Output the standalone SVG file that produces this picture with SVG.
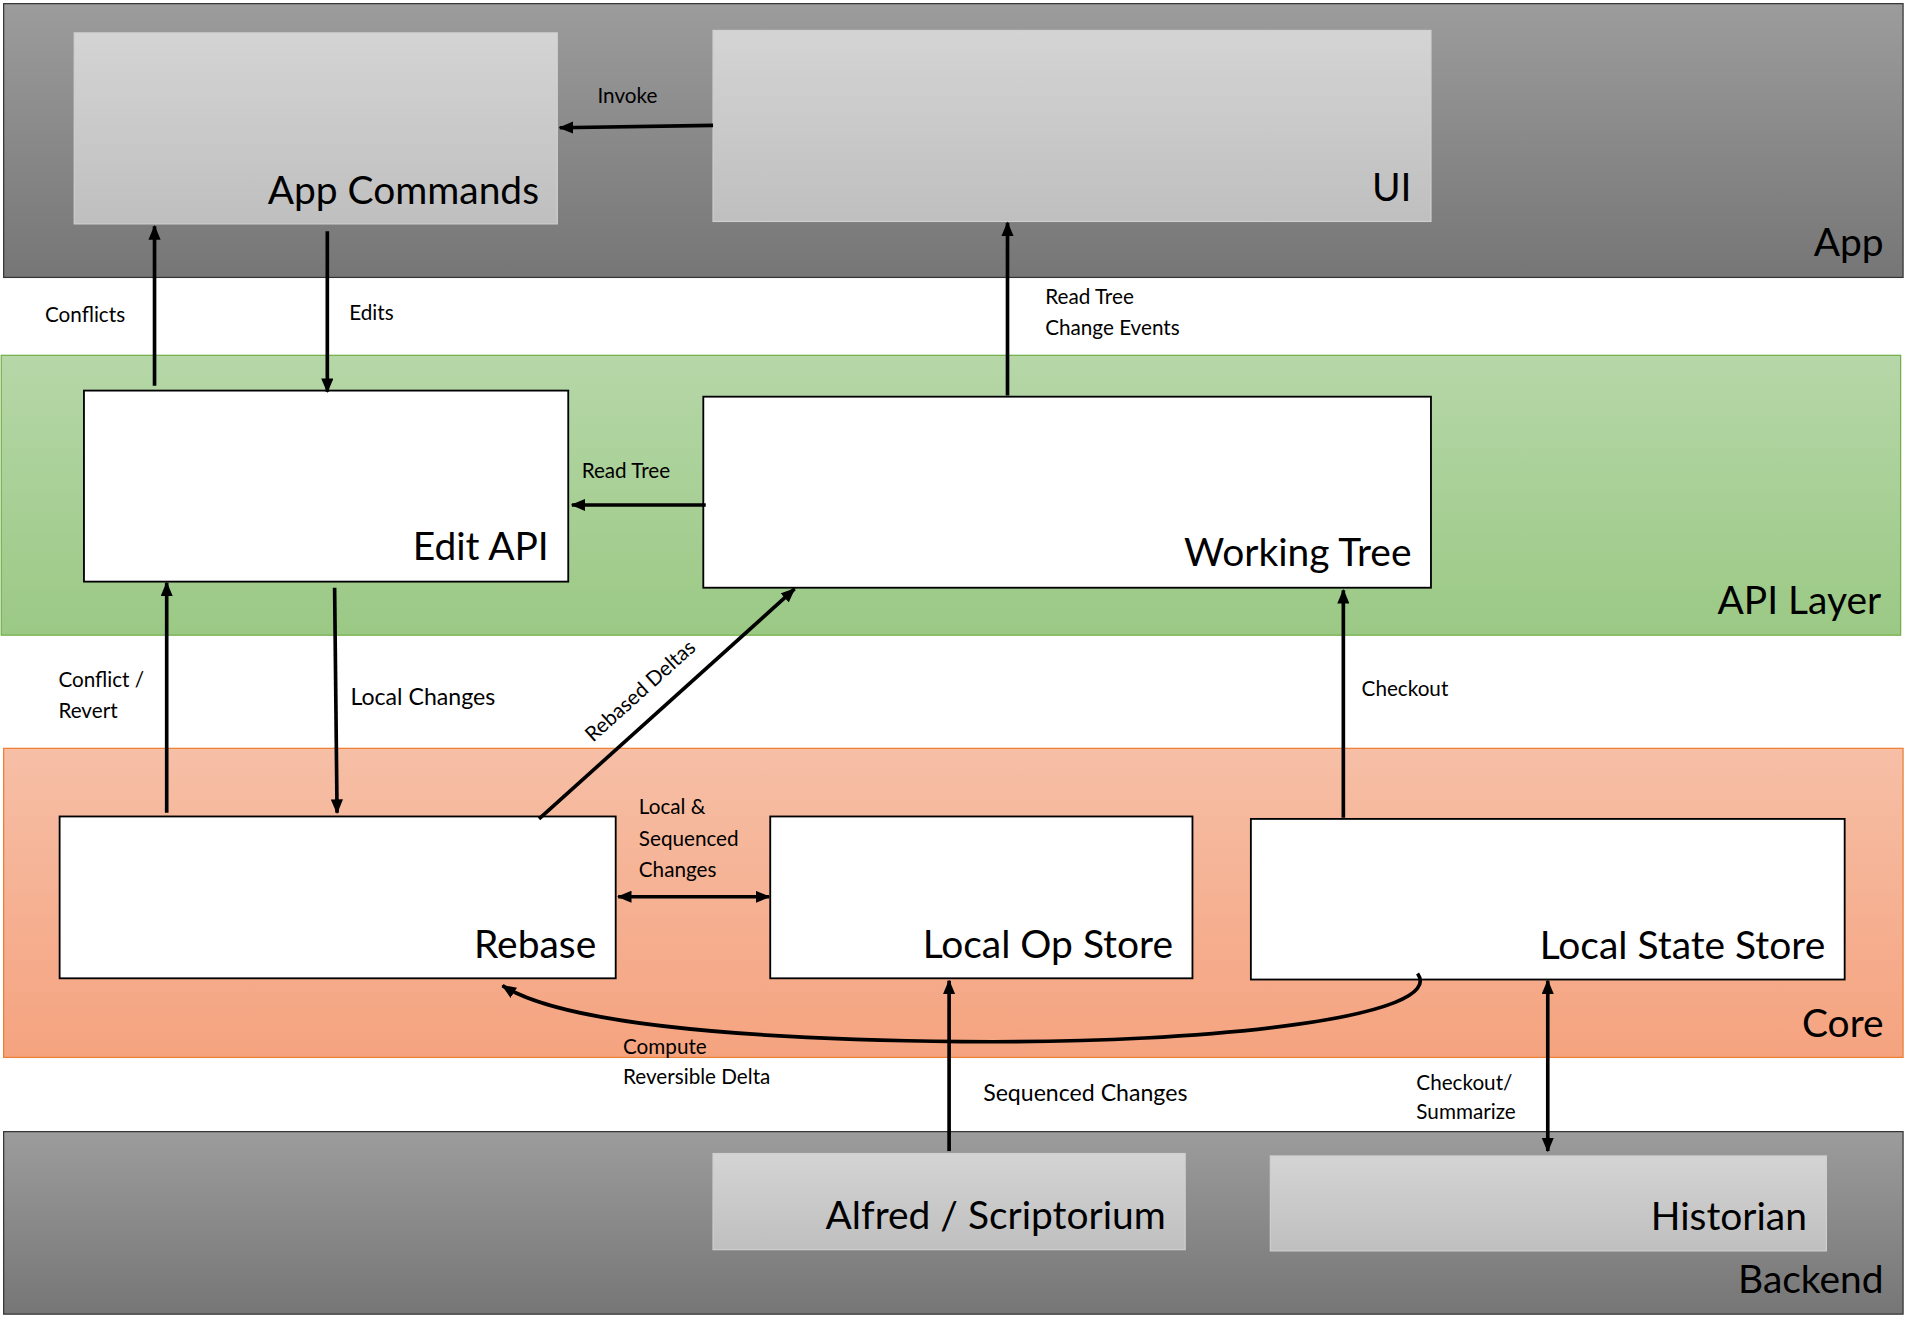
<svg xmlns="http://www.w3.org/2000/svg" width="1908" height="1320" viewBox="0 0 1908 1320">
<defs>
<linearGradient id="gGray" x1="0" y1="0" x2="0" y2="1"><stop offset="0" stop-color="#9c9c9c"/><stop offset="1" stop-color="#767676"/></linearGradient>
<linearGradient id="gLight" x1="0" y1="0" x2="0" y2="1"><stop offset="0" stop-color="#d4d4d4"/><stop offset="1" stop-color="#bfbfbf"/></linearGradient>
<linearGradient id="gGreen" x1="0" y1="0" x2="0" y2="1"><stop offset="0" stop-color="#b6d7a8"/><stop offset="1" stop-color="#9bc985"/></linearGradient>
<linearGradient id="gCore" x1="0" y1="0" x2="0" y2="1"><stop offset="0" stop-color="#f6bfa6"/><stop offset="1" stop-color="#f5a37f"/></linearGradient>
<marker id="ah" viewBox="0 0 12 10" refX="11" refY="5" markerWidth="12" markerHeight="10" markerUnits="userSpaceOnUse" orient="auto-start-reverse"><path d="M0,0 L12,5 L0,10 z" fill="#000"/></marker>
</defs>
<style>
text{font-family:Lato,"Open Sans","Liberation Sans",sans-serif;fill:#000}
.big{font-size:32px;text-anchor:end}
.lbl{font-size:17px}
.node{fill:#fff;stroke:#000;stroke-width:1.5}
.grey{fill:url(#gLight);stroke:#cfcfcf;stroke-width:1}
.c{fill:none;stroke:#000;stroke-width:3;marker-end:url(#ah)}
.d{marker-start:url(#ah)}
</style>
<g transform="scale(1.2168)">
<g id="layer-app"><rect x="3" y="3" width="1561" height="225" fill="url(#gGray)" stroke="#333" stroke-width="1"/><text class="big" x="1548" y="210">App</text></g>
<g id="layer-api"><rect x="1" y="292" width="1561" height="230" fill="url(#gGreen)" stroke="#70ad47" stroke-width="1"/><text class="big" x="1546" y="505">API Layer</text></g>
<g id="layer-core"><rect x="3" y="615" width="1561" height="254" fill="url(#gCore)" stroke="#ed7d31" stroke-width="1"/><text class="big" x="1548" y="852">Core</text></g>
<g id="layer-backend"><rect x="3" y="930" width="1561" height="150" fill="url(#gGray)" stroke="#333" stroke-width="1"/><text class="big" x="1548" y="1063">Backend</text></g>
<g id="app-commands"><rect class="grey" x="61" y="27" width="397" height="157"/><text class="big" x="443" y="168">App Commands</text></g>
<g id="ui"><rect class="grey" x="586" y="25" width="590" height="157"/><text class="big" x="1160" y="165">UI</text></g>
<g id="edit-api"><rect class="node" x="69" y="321" width="398" height="157"/><text class="big" x="451" y="460">Edit API</text></g>
<g id="working-tree"><rect class="node" x="578" y="326" width="598" height="157"/><text class="big" x="1160" y="465">Working Tree</text></g>
<g id="rebase"><rect class="node" x="49" y="671" width="457" height="133"/><text class="big" x="490" y="787">Rebase</text></g>
<g id="local-op-store"><rect class="node" x="633" y="671" width="347" height="133"/><text class="big" x="964" y="787">Local Op Store</text></g>
<g id="local-state-store"><rect class="node" x="1028" y="673" width="488" height="132"/><text class="big" x="1500" y="788">Local State Store</text></g>
<g id="alfred"><rect class="grey" x="586" y="948" width="388" height="79"/><text class="big" x="958" y="1010">Alfred / Scriptorium</text></g>
<g id="historian"><rect class="grey" x="1044" y="950" width="457" height="78"/><text class="big" x="1485" y="1011">Historian</text></g>
<g id="connectors">
<path class="c" d="M586,103 L460,105"/><text class="lbl" x="491" y="85">Invoke</text>
<path class="c" d="M127,317 L127,186"/><text class="lbl" x="37" y="265">Conflicts</text>
<path class="c" d="M269,190 L269,322"/><text class="lbl" x="287" y="263">Edits</text>
<path class="c" d="M828,325 L828,183"/><text class="lbl" x="859" y="250">Read Tree</text><text class="lbl" x="859" y="275">Change Events</text>
<path class="c" d="M580,415 L470,415"/><text class="lbl" x="478" y="393">Read Tree</text>
<path class="c" d="M137,668 L137,479"/><text class="lbl" x="48" y="565">Conflict /</text><text class="lbl" x="48" y="590">Revert</text>
<path class="c" d="M275,483 L277,668"/><text class="lbl" x="288" y="579" style="font-size:19px">Local Changes</text>
<path class="c" d="M443,673 L653,484"/><text class="lbl" x="0" y="0" text-anchor="middle" transform="translate(530,572) rotate(-42)">Rebased Deltas</text>
<path class="c d" d="M508,737 L632,737"/><text class="lbl" x="525" y="669">Local &amp;</text><text class="lbl" x="525" y="695">Sequenced</text><text class="lbl" x="525" y="721">Changes</text>
<path class="c" d="M1104,672 L1104,485"/><text class="lbl" x="1119" y="572">Checkout</text>
<path class="c" d="M1165,800 C1190,835 1000,858 790,856 C600,854 460,840 413,810"/><text class="lbl" x="512" y="866">Compute</text><text class="lbl" x="512" y="891">Reversible Delta</text>
<path class="c" d="M780,946 L780,806"/><text class="lbl" x="808" y="905" style="font-size:19px">Sequenced Changes</text>
<path class="c d" d="M1272,806 L1272,946"/><text class="lbl" x="1164" y="896">Checkout/</text><text class="lbl" x="1164" y="920">Summarize</text>
</g>
</g>
</svg>
